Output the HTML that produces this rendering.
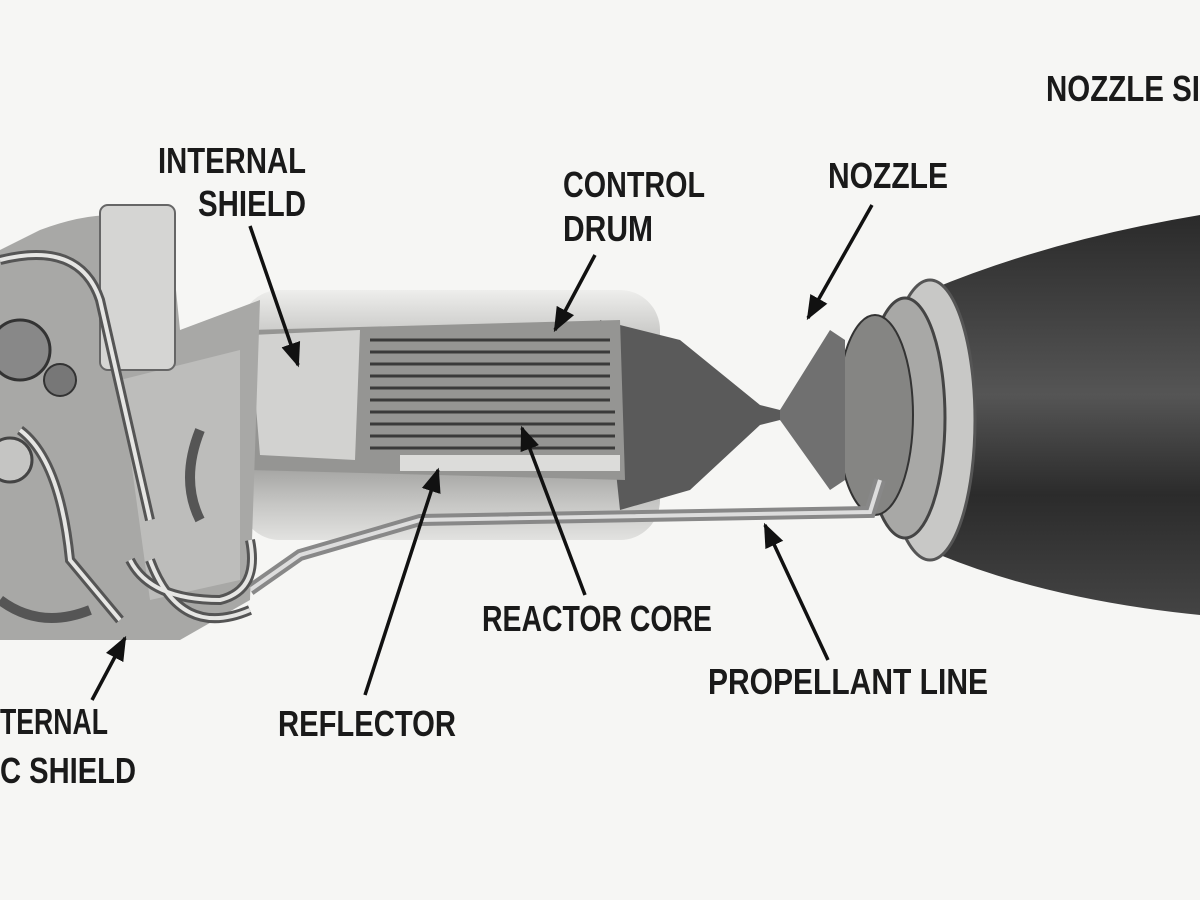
<!DOCTYPE html>
<html><head><meta charset="utf-8"><style>
html,body{margin:0;padding:0;background:#f6f6f4;}
svg{display:block}
text{font-family:"Liberation Sans",sans-serif;font-weight:bold;fill:#1a1a1a;font-size:36px;}
</style></head><body>
<svg width="1200" height="900" viewBox="0 0 1200 900" xmlns="http://www.w3.org/2000/svg">
<defs>
<linearGradient id="cyl" x1="0" y1="0" x2="0" y2="1">
<stop offset="0" stop-color="#eeeeec"/><stop offset="0.3" stop-color="#b0b0ae"/><stop offset="0.6" stop-color="#8a8a88"/><stop offset="0.85" stop-color="#c5c5c3"/><stop offset="1" stop-color="#e2e2e0"/></linearGradient>
<linearGradient id="cone" x1="0" y1="0" x2="0" y2="1">
<stop offset="0" stop-color="#2a2a2a"/><stop offset="0.45" stop-color="#555"/><stop offset="0.7" stop-color="#2b2b2b"/><stop offset="1" stop-color="#444"/></linearGradient>
<marker id="ah" viewBox="0 0 10 10" refX="9" refY="5" markerWidth="7" markerHeight="7" orient="auto"><path d="M0,1 L10,5 L0,9 z" fill="#111"/></marker>
</defs>
<rect width="1200" height="900" fill="#f6f6f4"/>
<path d="M930,290 Q1050,240 1200,215 L1200,615 Q1050,600 940,555 Z" fill="url(#cone)"/>
<ellipse cx="930" cy="420" rx="45" ry="140" fill="#c8c8c6" stroke="#555" stroke-width="3"/>
<ellipse cx="905" cy="418" rx="40" ry="120" fill="#a8a8a6" stroke="#444" stroke-width="3"/>
<ellipse cx="875" cy="415" rx="38" ry="100" fill="#858583" stroke="#333" stroke-width="2"/>
<rect x="240" y="290" width="420" height="250" rx="40" fill="url(#cyl)"/>
<path d="M600,320 L680,340 L760,405 L780,410 L830,370 L845,380 L845,450 L830,460 L780,420 L760,425 L690,490 L620,510 Z" fill="#5a5a5a"/>
<path d="M780,410 L830,330 L845,340 L845,480 L830,490 L780,420Z" fill="#707070"/>
<path d="M250,330 L620,320 L625,480 L250,470 Z" fill="#959593"/>
<path d="M250,335 L360,330 L355,460 L260,455 Z" fill="#d2d2d0"/>
<g stroke="#3a3a3a" stroke-width="3">
<line x1="370" y1="340" x2="610" y2="340"/><line x1="370" y1="352" x2="610" y2="352"/><line x1="370" y1="364" x2="610" y2="364"/><line x1="370" y1="376" x2="610" y2="376"/><line x1="370" y1="388" x2="610" y2="388"/><line x1="370" y1="400" x2="610" y2="400"/><line x1="370" y1="412" x2="615" y2="412"/><line x1="370" y1="424" x2="615" y2="424"/><line x1="370" y1="436" x2="615" y2="436"/><line x1="370" y1="448" x2="615" y2="448"/>
</g>
<rect x="400" y="455" width="220" height="16" fill="#dcdcda"/>
<path d="M250,590 L300,555 L420,520 L870,512 L880,480" fill="none" stroke="#888" stroke-width="12"/>
<path d="M250,590 L300,555 L420,520 L870,512 L880,480" fill="none" stroke="#ddd" stroke-width="4"/>
<path d="M40,230 Q120,200 170,230 L180,330 L260,300 L250,600 L180,640 L0,640 L0,250 Z" fill="#a8a8a6"/>
<path d="M120,380 L240,350 L240,580 L150,600 Z" fill="#bdbdbb"/>
<rect x="100" y="205" width="75" height="165" rx="8" fill="#d5d5d3" stroke="#666" stroke-width="2"/>
<g fill="none" stroke="#555" stroke-width="10">
<path d="M0,260 Q80,240 100,300 L150,520"/><path d="M20,430 Q60,460 70,560 L120,620"/><path d="M130,560 Q150,600 220,600 Q260,590 250,540"/><path d="M0,600 Q40,630 90,610"/><path d="M200,430 Q180,480 200,520"/><path d="M150,560 Q180,640 250,610"/>
</g>
<g fill="none" stroke="#e6e6e4" stroke-width="4">
<path d="M0,260 Q80,240 100,300 L150,520"/><path d="M20,430 Q60,460 70,560 L120,620"/><path d="M130,560 Q150,600 220,600 Q260,590 250,540"/><path d="M150,560 Q180,640 250,610"/>
</g>
<circle cx="20" cy="350" r="30" fill="#888" stroke="#333" stroke-width="3"/>
<circle cx="10" cy="460" r="22" fill="#c5c5c3" stroke="#444" stroke-width="3"/>
<circle cx="60" cy="380" r="16" fill="#777" stroke="#333" stroke-width="2"/>
<g stroke="#111" stroke-width="3.5" fill="none" marker-end="url(#ah)">
<line x1="250" y1="226" x2="298" y2="365"/>
<line x1="595" y1="255" x2="555" y2="330"/>
<line x1="872" y1="205" x2="808" y2="318"/>
<line x1="585" y1="595" x2="522" y2="428"/>
<line x1="828" y1="660" x2="765" y2="525"/>
<line x1="365" y1="695" x2="438" y2="470"/>
<line x1="92" y1="700" x2="125" y2="638"/>
</g>
<text x="1046" y="101" textLength="154" lengthAdjust="spacingAndGlyphs">NOZZLE SI</text>
<text x="158" y="173" textLength="148" lengthAdjust="spacingAndGlyphs">INTERNAL</text>
<text x="198" y="216" textLength="108" lengthAdjust="spacingAndGlyphs">SHIELD</text>
<text x="563" y="197" textLength="142" lengthAdjust="spacingAndGlyphs">CONTROL</text>
<text x="563" y="241" textLength="90" lengthAdjust="spacingAndGlyphs">DRUM</text>
<text x="828" y="188" textLength="120" lengthAdjust="spacingAndGlyphs">NOZZLE</text>
<text x="482" y="631" textLength="230" lengthAdjust="spacingAndGlyphs">REACTOR CORE</text>
<text x="708" y="694" textLength="280" lengthAdjust="spacingAndGlyphs">PROPELLANT LINE</text>
<text x="278" y="736" textLength="178" lengthAdjust="spacingAndGlyphs">REFLECTOR</text>
<text x="0" y="734" textLength="108" lengthAdjust="spacingAndGlyphs">TERNAL</text>
<text x="0" y="783" textLength="136" lengthAdjust="spacingAndGlyphs">C SHIELD</text>
</svg>
</body></html>
